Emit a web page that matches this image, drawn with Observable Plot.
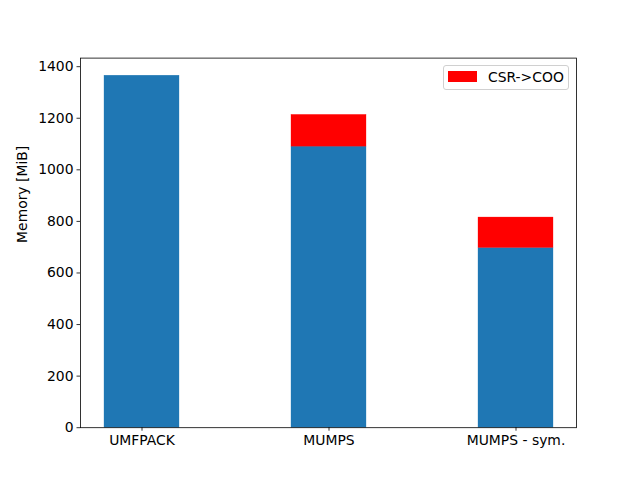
<!DOCTYPE html>
<html>
<head>
<meta charset="utf-8">
<script src="https://cdn.jsdelivr.net/npm/d3@7"></script>
<script src="https://cdn.jsdelivr.net/npm/@observablehq/plot@0.6"></script>
<style>
  html, body { margin: 0; padding: 0; background: #fff; }
  #wrap { position: relative; width: 640px; height: 480px; font-family: "DejaVu Sans", sans-serif; }
  #legend { position: absolute; left: 443px; top: 65px; width: 124px; height: 23px;
    border: 1px solid #d0d0d0; border-radius: 3px; background: rgba(255,255,255,0.8);
    box-sizing: content-box; }
  #legend .patch { position: absolute; left: 4px; top: 5px; width: 29px; height: 10.5px; background: red; }
  #legend .lbl { position: absolute; left: 44px; top: 3px; font-size: 13.9px; line-height: 16px; color: #000; white-space: nowrap; }
</style>
</head>
<body>
<div id="wrap"></div>
<script>
const categories = ["UMFPACK", "MUMPS", "MUMPS - sym."];
const baseMemory = [1365, 1090, 697];
const conversionMemory = [0, 123, 118];
const parts = ["base", "CSR->COO"];
const partColors = ["#1f77b4", "#ff0000"];
const yTicks = [0, 200, 400, 600, 800, 1000, 1200, 1400];

const data = [];
categories.forEach((c, i) => {
  data.push({solver: c, part: "base", value: baseMemory[i]});
  if (conversionMemory[i] > 0) data.push({solver: c, part: "CSR->COO", value: conversionMemory[i]});
});

const maxTotal = d3.max(categories, (c, i) => baseMemory[i] + conversionMemory[i]);

const chart = Plot.plot({
  width: 640,
  height: 480,
  marginLeft: 80,
  marginRight: 64,
  marginTop: 57.6,
  marginBottom: 52.8,
  style: {fontFamily: "DejaVu Sans, sans-serif", fontSize: "13.9px", color: "#000", background: "#fff"},
  x: {domain: categories, paddingInner: 0.6, paddingOuter: 0.1227, label: null},
  y: {domain: [0, maxTotal * 1.05], label: null},
  color: {domain: parts, range: partColors},
  marks: [
    Plot.barY(data, {x: "solver", y: "value", fill: "part", stroke: "part", strokeWidth: 0.3}),
    Plot.frame({stroke: "#000", strokeWidth: 0.8}),
    Plot.axisY({ticks: yTicks, tickFormat: d3.format("d"), tickSize: 3.5, tickPadding: 3.5, label: null, fontSize: 13.9, strokeWidth: 0.8}),
    Plot.axisX({tickSize: 3.5, tickPadding: 3.5, label: null, fontSize: 13.9, strokeWidth: 0.8}),
    Plot.text(["Memory [MiB]"], {text: d => d, frameAnchor: "left", dx: -58, rotate: -90, fontSize: 13.9, fill: "#000"})
  ]
});

const wrap = document.getElementById("wrap");
wrap.appendChild(chart);
const legend = document.createElement("div");
legend.id = "legend";
legend.innerHTML = `<div class="patch" style="background:${partColors[1]}"></div><div class="lbl">${parts[1]}</div>`;
wrap.appendChild(legend);
</script>
</body>
</html>
